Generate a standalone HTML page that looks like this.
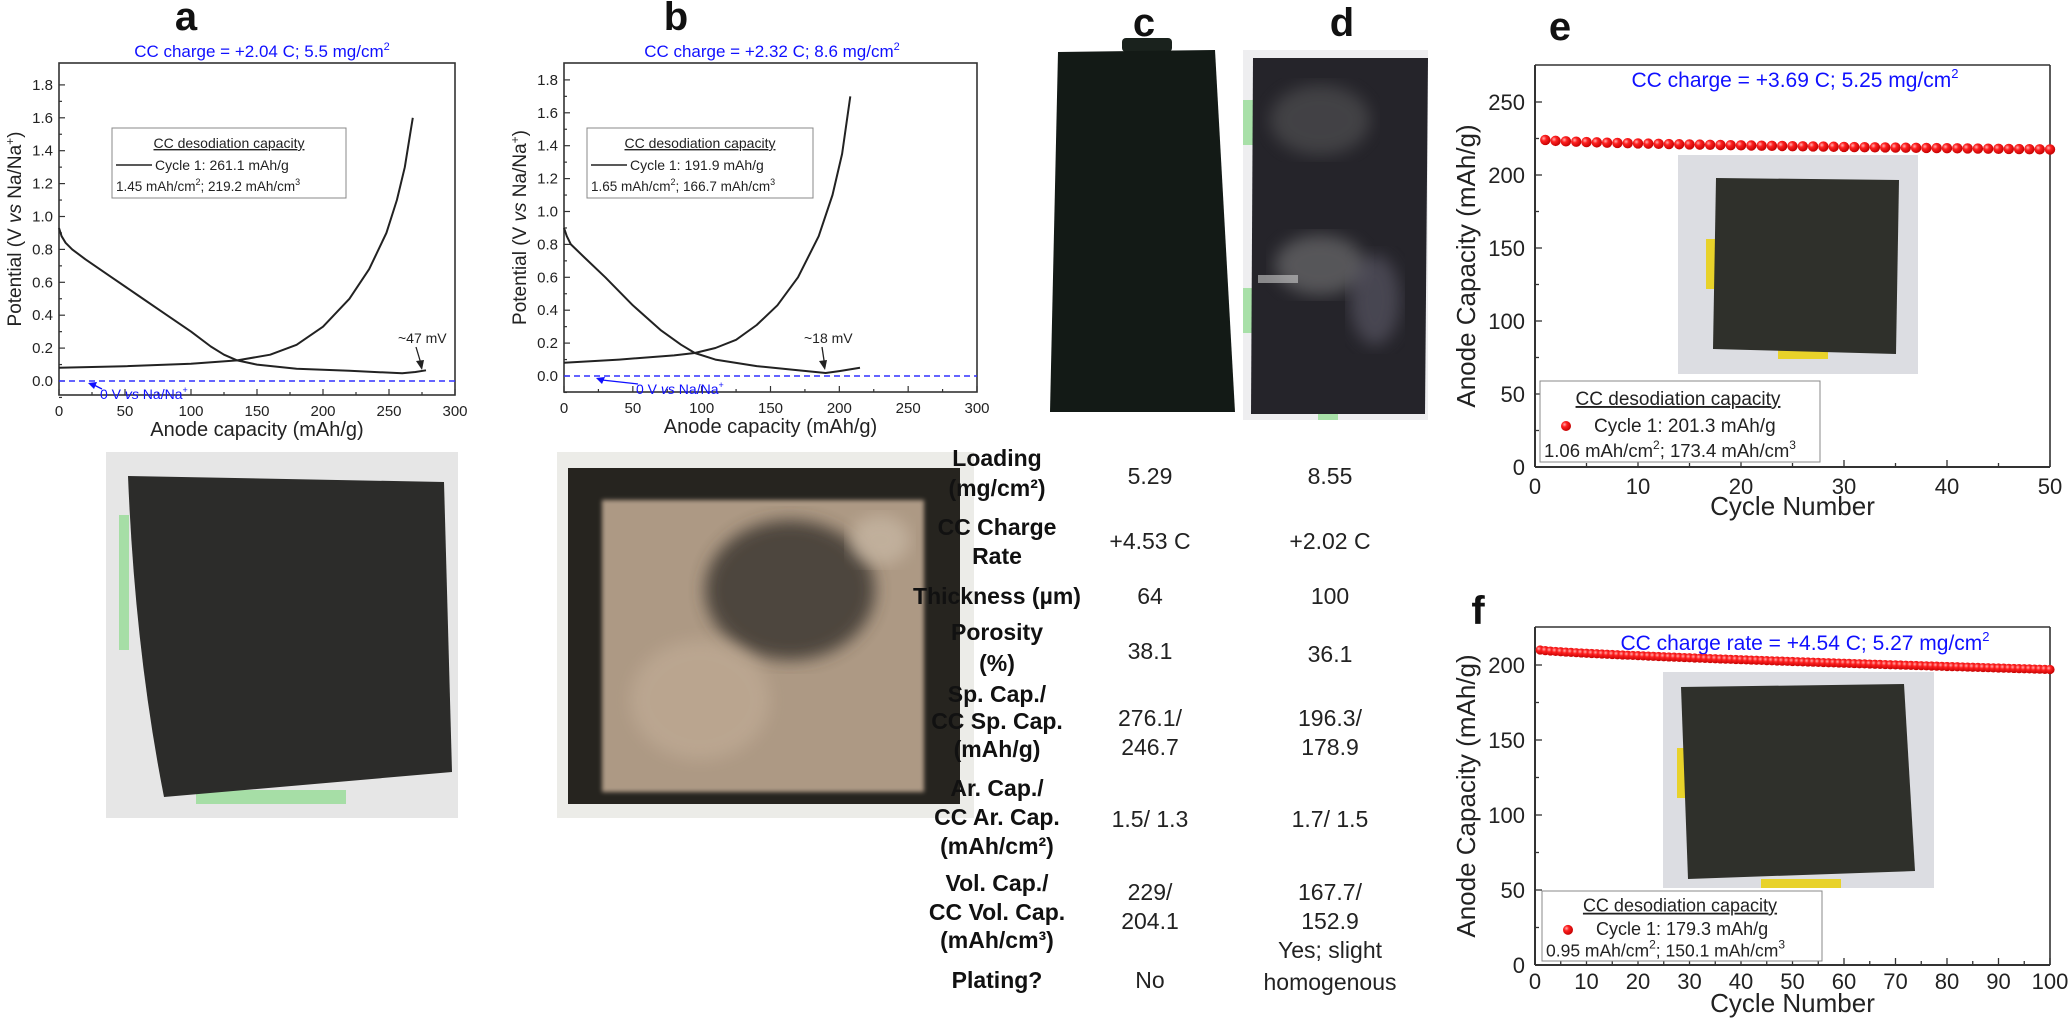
<!DOCTYPE html>
<html><head><meta charset="utf-8">
<style>
html,body{margin:0;padding:0;background:#fff;}
svg{display:block;font-family:"Liberation Sans",Arial,sans-serif;}
.tb{font-size:23px;font-weight:bold;fill:#111;text-anchor:middle}
.tv{font-size:23px;fill:#222;text-anchor:middle}
</style></head>
<body>
<svg id="s" width="2070" height="1021" viewBox="0 0 2070 1021" xmlns="http://www.w3.org/2000/svg">
<defs>
<radialGradient id="rb" cx="0.35" cy="0.35" r="0.7"><stop offset="0" stop-color="#ffb0b0"/><stop offset="0.35" stop-color="#ff2020"/><stop offset="1" stop-color="#c00000"/></radialGradient>
<filter id="blur"><feGaussianBlur stdDeviation="2"/></filter>
<filter id="blur2"><feGaussianBlur stdDeviation="8"/></filter>
</defs>

<g id="pa"></g>
<g id="pb"></g>

<!-- photo a -->
<rect x="106" y="452" width="352" height="366" fill="#e6e6e6"/>
<rect x="119" y="515" width="10" height="135" fill="#a6dea6"/>
<rect x="196" y="790" width="150" height="14" fill="#a6dea6"/>
<path d="M128,476 L444,482 L452,772 L164,797 Q135,650 128,476Z" fill="#2c2c2a"/>
<!-- photo b -->
<rect x="557" y="452" width="417" height="366" fill="#ecece8"/>
<rect x="568" y="600" width="10" height="125" fill="#9fe08a"/>
<rect x="640" y="790" width="135" height="14" fill="#9fe08a"/>
<rect x="568" y="468" width="392" height="336" fill="#26241f"/>
<rect x="602" y="500" width="322" height="292" fill="#ad9984" filter="url(#blur)"/>
<ellipse cx="790" cy="590" rx="85" ry="70" fill="#3e3931" filter="url(#blur2)" opacity="0.85"/>
<ellipse cx="700" cy="700" rx="70" ry="60" fill="#c0ab95" filter="url(#blur2)" opacity="0.7"/>
<ellipse cx="880" cy="540" rx="30" ry="25" fill="#c9b9a6" filter="url(#blur2)" opacity="0.7"/>

<!-- photo c -->
<rect x="1122" y="38" width="50" height="14" rx="4" fill="#1a221d"/>
<path d="M1058,52 L1215,50 L1235,412 L1050,412 Z" fill="#131a16"/>
<!-- photo d -->
<rect x="1243" y="50" width="185" height="370" fill="#eeeef0"/>
<rect x="1243" y="100" width="10" height="45" fill="#a8e0a8"/>
<rect x="1243" y="288" width="10" height="45" fill="#a8e0a8"/>
<rect x="1318" y="412" width="20" height="8" fill="#a8e0a8"/>
<path d="M1253,58 L1428,58 L1425,414 L1251,414 Z" fill="#25242a"/>
<ellipse cx="1320" cy="120" rx="50" ry="35" fill="#666" opacity="0.45" filter="url(#blur2)"/>
<ellipse cx="1320" cy="265" rx="45" ry="30" fill="#888" opacity="0.5" filter="url(#blur2)"/>
<ellipse cx="1375" cy="300" rx="25" ry="45" fill="#6a6878" opacity="0.5" filter="url(#blur2)"/>
<rect x="1258" y="275" width="40" height="8" fill="#ccc" opacity="0.6"/>

<!-- table -->
<g>
<text class="tb" x="997" y="466">Loading</text><text class="tb" x="997" y="496">(mg/cm²)</text>
<text class="tv" x="1150" y="484">5.29</text><text class="tv" x="1330" y="484">8.55</text>
<text class="tb" x="997" y="535">CC Charge</text><text class="tb" x="997" y="564">Rate</text>
<text class="tv" x="1150" y="549">+4.53 C</text><text class="tv" x="1330" y="549">+2.02 C</text>
<text class="tb" x="997" y="604">Thickness (µm)</text>
<text class="tv" x="1150" y="604">64</text><text class="tv" x="1330" y="604">100</text>
<text class="tb" x="997" y="640">Porosity</text><text class="tb" x="997" y="671">(%)</text>
<text class="tv" x="1150" y="659">38.1</text><text class="tv" x="1330" y="662">36.1</text>
<text class="tb" x="997" y="702">Sp. Cap./</text><text class="tb" x="997" y="729">CC Sp. Cap.</text><text class="tb" x="997" y="757">(mAh/g)</text>
<text class="tv" x="1150" y="726">276.1/</text><text class="tv" x="1150" y="755">246.7</text>
<text class="tv" x="1330" y="726">196.3/</text><text class="tv" x="1330" y="755">178.9</text>
<text class="tb" x="997" y="796">Ar. Cap./</text><text class="tb" x="997" y="825">CC Ar. Cap.</text><text class="tb" x="997" y="854">(mAh/cm²)</text>
<text class="tv" x="1150" y="827">1.5/ 1.3</text><text class="tv" x="1330" y="827">1.7/ 1.5</text>
<text class="tb" x="997" y="891">Vol. Cap./</text><text class="tb" x="997" y="920">CC Vol. Cap.</text><text class="tb" x="997" y="948">(mAh/cm³)</text>
<text class="tv" x="1150" y="900">229/</text><text class="tv" x="1150" y="929">204.1</text>
<text class="tv" x="1330" y="900">167.7/</text><text class="tv" x="1330" y="929">152.9</text>
<text class="tb" x="997" y="988">Plating?</text>
<text class="tv" x="1150" y="988">No</text>
<text class="tv" x="1330" y="958">Yes; slight</text><text class="tv" x="1330" y="990">homogenous</text>
</g>

<g id="pe"></g>
<g id="pf"></g>

<g font-weight="bold" font-size="40" fill="#111" text-anchor="middle">
<text x="186" y="30">a</text><text x="676" y="30">b</text>
<text x="1144" y="36">c</text><text x="1342" y="36">d</text>
<text x="1560" y="40">e</text><text x="1478" y="624">f</text>
</g>
</svg>
<script>
var NS="http://www.w3.org/2000/svg";
function el(p,tag,at,txt){var e=document.createElementNS(NS,tag);for(var k in at)e.setAttribute(k,at[k]);if(txt!==undefined)e.textContent=txt;p.appendChild(e);return e;}
function txt(p,x,y,s,at){at=at||{};at.x=x;at.y=y;return el(p,'text',at,s);}

function potPanel(id,L,R,y0,top,bot,dis,chg,title,leg,ann){
  var g=document.getElementById(id);
  var sx=(R-L)/300, sy=164.5;
  function X(c){return L+c*sx;} function Y(v){return y0-v*sy;}
  el(g,'rect',{x:L,y:top,width:R-L,height:bot-top,fill:'none',stroke:'#333','stroke-width':1.6});
  for(var c=0;c<=300;c+=25){var big=c%50==0;el(g,'line',{x1:X(c),x2:X(c),y1:bot,y2:bot-(big?6:3),stroke:'#333','stroke-width':1.2});
    if(big) txt(g,X(c),bot+21,''+c,{'font-size':15,'text-anchor':'middle',fill:'#222'});}
  for(var v=-0.1;v<=1.81;v+=0.1){var vv=Math.round(v*10)/10;var big=Math.round(vv*10)%2==0;
    el(g,'line',{x1:L,x2:L+(big?6:3),y1:Y(vv),y2:Y(vv),stroke:'#333','stroke-width':1.2});
    if(big&&vv>=0) txt(g,L-6,Y(vv)+5,vv.toFixed(1),{'font-size':15,'text-anchor':'end',fill:'#222'});}
  txt(g,(L+R)/2,bot+41,'Anode capacity (mAh/g)',{'font-size':20,'text-anchor':'middle',fill:'#222'});
  var cy=(top+bot)/2;
  var yt=txt(g,0,0,'',{'font-size':19,'text-anchor':'middle',fill:'#222',transform:'translate('+(L-38)+','+cy+') rotate(-90)'});
  yt.innerHTML='Potential (V <tspan font-style="italic">vs</tspan> Na/Na<tspan dy="-7" font-size="12">+</tspan><tspan dy="7">)</tspan>';
  el(g,'line',{x1:L,x2:R,y1:Y(0),y2:Y(0),stroke:'#3030ff','stroke-width':1.6,'stroke-dasharray':'6,4'});
  function pl(pts){return pts.map(function(p){return X(p[0]).toFixed(1)+','+Y(p[1]).toFixed(1)}).join(' ');}
  el(g,'polyline',{points:pl(dis),fill:'none',stroke:'#222','stroke-width':2,'stroke-linejoin':'round'});
  el(g,'polyline',{points:pl(chg),fill:'none',stroke:'#222','stroke-width':2,'stroke-linejoin':'round'});
  var t=txt(g,title.x,title.y,'',{'font-size':17,'text-anchor':'middle',fill:'#1010ff'});
  t.innerHTML=title.s+'<tspan dy="-7" font-size="11">2</tspan>';
  el(g,'rect',{x:leg.x,y:leg.y,width:leg.w,height:leg.h,fill:'#fff',stroke:'#888','stroke-width':1});
  txt(g,leg.x+leg.w/2,leg.y+20,'CC desodiation capacity',{'font-size':14,'text-anchor':'middle',fill:'#222','text-decoration':'underline'});
  el(g,'line',{x1:leg.x+4,x2:leg.x+40,y1:leg.y+37,y2:leg.y+37,stroke:'#222','stroke-width':1.5});
  txt(g,leg.x+43,leg.y+42,leg.l1,{'font-size':14,fill:'#222'});
  var l2=txt(g,leg.x+4,leg.y+63,'',{'font-size':13.5,fill:'#222'});
  l2.innerHTML=leg.l2a+'<tspan dy="-6" font-size="9">2</tspan><tspan dy="6">'+leg.l2b+'</tspan><tspan dy="-6" font-size="9">3</tspan>';
  txt(g,ann.mx,ann.my,ann.m,{'font-size':14,fill:'#222'});
  el(g,'line',{x1:ann.mx+18,y1:ann.my+4,x2:ann.tx,y2:ann.ty-3,stroke:'#222','stroke-width':1.3});
  el(g,'polygon',{points:(ann.tx)+','+(ann.ty)+' '+(ann.tx-6)+','+(ann.ty-9)+' '+(ann.tx+2)+','+(ann.ty-10),fill:'#222'});
  var z=txt(g,ann.zx,ann.zy,'',{'font-size':14,fill:'#1010ff'});
  z.innerHTML='0 V <tspan font-style="italic">vs</tspan> Na/Na<tspan dy="-6" font-size="9">+</tspan>';
  el(g,'line',{x1:ann.zx+2,y1:ann.zy-10,x2:ann.ax+6,y2:ann.ay+2,stroke:'#1010ff','stroke-width':1.3});
  el(g,'polygon',{points:ann.ax+','+ann.ay+' '+(ann.ax+9)+','+(ann.ay-1)+' '+(ann.ax+6)+','+(ann.ay+6),fill:'#1010ff'});
}
potPanel('pa',59,455,381,63,395,
 [[0,0.93],[2,0.88],[5,0.84],[10,0.80],[20,0.74],[40,0.63],[60,0.52],[80,0.41],[100,0.30],[115,0.21],[125,0.16],[135,0.125],[150,0.10],[180,0.075],[220,0.062],[260,0.047],[270,0.055],[278,0.065]],
 [[0,0.08],[50,0.09],[100,0.105],[135,0.125],[160,0.16],[180,0.22],[200,0.33],[220,0.5],[235,0.68],[248,0.9],[256,1.1],[262,1.3],[266,1.5],[268,1.6]],
 {x:262,y:57,s:'CC charge = +2.04 C; 5.5 mg/cm'},
 {x:112,y:128,w:234,h:70,l1:'Cycle 1: 261.1 mAh/g',l2a:'1.45 mAh/cm',l2b:'; 219.2 mAh/cm'},
 {m:'~47 mV',mx:398,my:343,tx:422,ty:370,zx:100,zy:399,ax:88,ay:383});
potPanel('pb',564,977,376,63,392,
 [[0,0.9],[2,0.85],[5,0.8],[15,0.72],[30,0.6],[50,0.43],[70,0.28],[85,0.19],[95,0.14],[110,0.1],[140,0.06],[170,0.035],[190,0.018],[200,0.03],[215,0.05]],
 [[0,0.08],[40,0.1],[80,0.125],[95,0.14],[110,0.17],[125,0.22],[140,0.31],[155,0.43],[170,0.6],[185,0.85],[195,1.1],[202,1.35],[208,1.7]],
 {x:772,y:57,s:'CC charge = +2.32 C; 8.6 mg/cm'},
 {x:587,y:128,w:226,h:70,l1:'Cycle 1: 191.9 mAh/g',l2a:'1.65 mAh/cm',l2b:'; 166.7 mAh/cm'},
 {m:'~18 mV',mx:804,my:343,tx:825,ty:370,zx:636,zy:394,ax:596,ay:378});

function cycPanel(id,L,R,y0,top,sy,ymax,ystep,xmax,n,f,title,inset,leg,r,lab,fs){
  var g=document.getElementById(id);
  var sx=(R-L)/xmax; function X(c){return L+c*sx;} function Y(v){return y0-v*sy;}
  el(g,'rect',{x:inset.x,y:inset.y,width:inset.w,height:inset.h,fill:'#dcdde2'});
  el(g,'rect',{x:inset.tx,y:inset.ty,width:10,height:inset.th,fill:'#e8d22a'});
  el(g,'rect',{x:inset.bx,y:inset.by,width:inset.bw,height:9,fill:'#e8d22a'});
  el(g,'path',{d:inset.d,fill:'#2f302b'});
  el(g,'line',{x1:L,x2:R,y1:top,y2:top,stroke:'#333','stroke-width':1.6});
  el(g,'line',{x1:R,x2:R,y1:top,y2:y0,stroke:'#333','stroke-width':1.6});
  el(g,'line',{x1:L,x2:L,y1:top,y2:y0,stroke:'#333','stroke-width':2});
  el(g,'line',{x1:L,x2:R,y1:y0,y2:y0,stroke:'#333','stroke-width':2});
  for(var v=0;v<=ymax;v+=ystep/2){var big=v%ystep==0;
    el(g,'line',{x1:L,x2:L+(big?7:4),y1:Y(v),y2:Y(v),stroke:'#333','stroke-width':1.3});
    if(big) txt(g,L-10,Y(v)+8,''+v,{'font-size':22,'text-anchor':'end',fill:'#222'});}
  for(var c=0;c<=xmax;c+=5){var big=c%10==0;
    el(g,'line',{x1:X(c),x2:X(c),y1:y0,y2:y0-(big?7:4),stroke:'#333','stroke-width':1.3});
    if(big) txt(g,X(c),y0+lab[0],''+c,{'font-size':22,'text-anchor':'middle',fill:'#222'});}
  txt(g,(L+R)/2,y0+lab[1],'Cycle Number',{'font-size':26,'text-anchor':'middle',fill:'#222'});
  txt(g,0,0,'Anode Capacity (mAh/g)',{'font-size':26,'text-anchor':'middle',fill:'#222',transform:'translate('+(L-60)+','+((top+y0)/2)+') rotate(-90)'});
  var t=txt(g,title.x,title.y,'',{'font-size':21,'text-anchor':'middle',fill:'#1010ff'});
  t.innerHTML=title.s+'<tspan dy="-9" font-size="13">2</tspan>';
  for(var i=1;i<=n;i++){el(g,'circle',{cx:X(i),cy:Y(f(i)),r:r,fill:'url(#rb)'});}
  var k=leg.h/81;
  el(g,'rect',{x:leg.x,y:leg.y,width:leg.w,height:leg.h,fill:'#fff',stroke:'#888','stroke-width':1});
  txt(g,leg.x+138,leg.y+24*k,'CC desodiation capacity',{'font-size':fs,'text-anchor':'middle',fill:'#222','text-decoration':'underline'});
  el(g,'circle',{cx:leg.x+26,cy:leg.y+45*k,r:5,fill:'url(#rb)'});
  txt(g,leg.x+54,leg.y+51*k,leg.l1,{'font-size':fs,fill:'#222'});
  var l2=txt(g,leg.x+4,leg.y+76*k,'',{'font-size':fs-0.5,fill:'#222'});
  l2.innerHTML=leg.l2a+'<tspan dy="-8" font-size="12">2</tspan><tspan dy="8">'+leg.l2b+'</tspan><tspan dy="-8" font-size="12">3</tspan>';
}
cycPanel('pe',1535,2050,467,65,1.46,250,50,50,50,function(n){return 224-6.5*Math.pow((n-1)/49,0.6);},
 {x:1795,y:87,s:'CC charge = +3.69 C; 5.25 mg/cm'},
 {x:1678,y:155,w:240,h:219,tx:1706,ty:239,th:50,bx:1778,by:350,bw:50,d:'M1716,178 L1899,180 L1896,354 L1713,349 Z'},
 {x:1540,y:381,w:280,h:81,l1:'Cycle 1: 201.3 mAh/g',l2a:'1.06 mAh/cm',l2b:'; 173.4 mAh/cm'},5.2,[27,48],19);
cycPanel('pf',1535,2050,965,627,1.50,200,50,100,100,function(n){return 210-13*Math.pow((n-1)/99,0.75);},
 {x:1805,y:650,s:'CC charge rate = +4.54 C; 5.27 mg/cm'},
 {x:1663,y:672,w:271,h:216,tx:1677,ty:748,th:50,bx:1761,by:879,bw:80,d:'M1681,687 L1904,684 L1915,871 L1688,879 Z'},
 {x:1542,y:891,w:280,h:70,l1:'Cycle 1: 179.3 mAh/g',l2a:'0.95 mAh/cm',l2b:'; 150.1 mAh/cm'},4.6,[24,47],18);
</script>
</body></html>
